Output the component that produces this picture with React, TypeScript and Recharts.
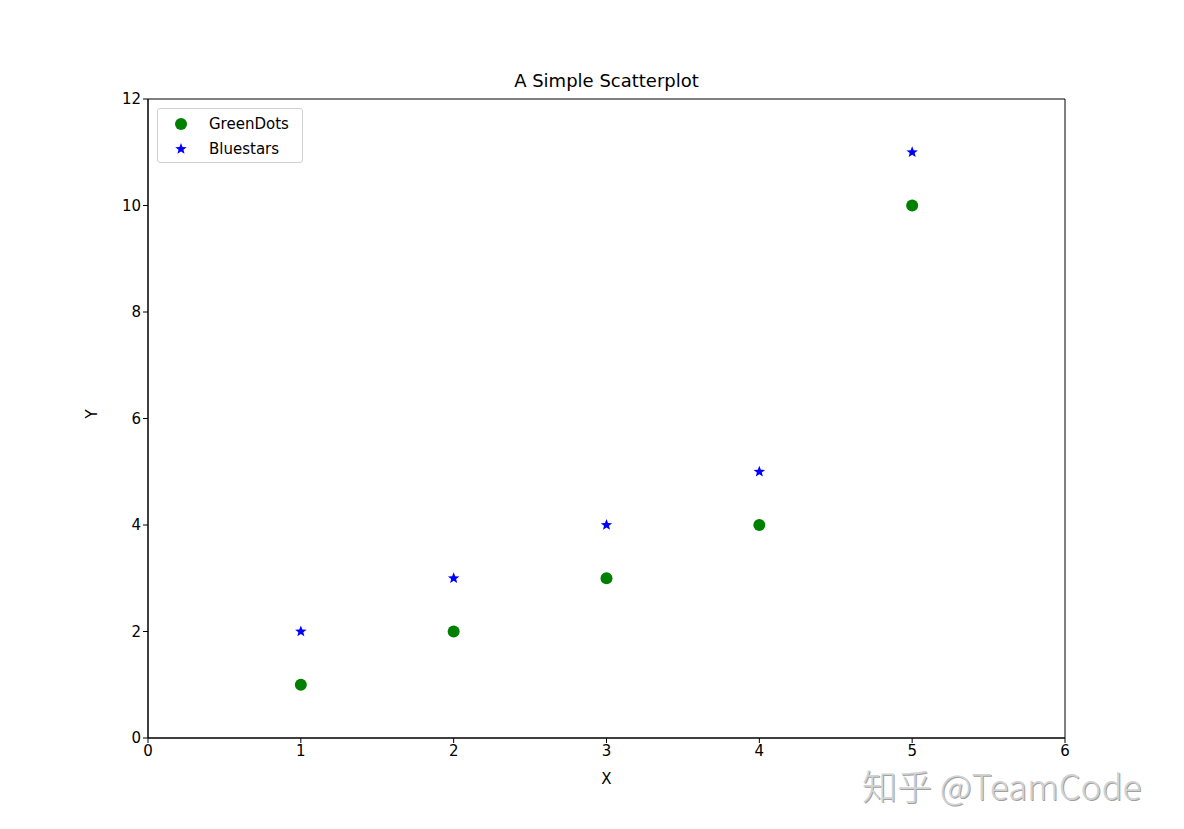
import React from 'react';
import {
  ScatterChart,
  Scatter,
  XAxis,
  YAxis,
  ReferenceArea,
} from 'recharts';

const xValues = [1, 2, 3, 4, 5];
const greenDots = [1, 2, 3, 4, 10];
const blueStars = [2, 3, 4, 5, 11];
const xTicks = [0, 1, 2, 3, 4, 5, 6];
const yTicks = [0, 2, 4, 6, 8, 10, 12];

const greenData = xValues.map((x, i) => ({ x, y: greenDots[i] }));
const blueData = xValues.map((x, i) => ({ x, y: blueStars[i] }));

const FONT = 'DejaVu Sans, sans-serif';

const starPath = (cx: number, cy: number, R: number, r: number) => {
  let d = '';
  for (let i = 0; i < 10; i++) {
    const rad = i % 2 === 0 ? R : r;
    const a = -Math.PI / 2 + (i * Math.PI) / 5;
    d += (i === 0 ? 'M' : 'L') + (cx + rad * Math.cos(a)).toFixed(2) + ',' + (cy + rad * Math.sin(a)).toFixed(2);
  }
  return d + 'Z';
};

const Star = (props: any) => {
  const { cx, cy } = props;
  return <path d={starPath(cx, cy, 6, 2.6)} fill="#0000ff" />;
};

const Dot = (props: any) => {
  const { cx, cy } = props;
  return <circle cx={cx} cy={cy} r={6} fill="#008000" />;
};

const LegendBox = () => (
  <div
    style={{
      position: 'absolute',
      left: 157,
      top: 108,
      width: 146,
      height: 55,
      border: '1px solid #d0d0d0',
      borderRadius: 3,
      background: '#fff',
      fontFamily: FONT,
      fontSize: 15,
      boxSizing: 'border-box',
      padding: '2px 0 0 0',
    }}
  >
    <div style={{ display: 'flex', alignItems: 'center', height: 25 }}>
      <svg width={51} height={20}>
        <circle cx={23} cy={10} r={6} fill="#008000" />
      </svg>
      <span>GreenDots</span>
    </div>
    <div style={{ display: 'flex', alignItems: 'center', height: 25 }}>
      <svg width={51} height={20}>
        <path d={starPath(23, 10, 6, 2.6)} fill="#0000ff" />
      </svg>
      <span>Bluestars</span>
    </div>
  </div>
);

export default function App() {
  return (
    <div style={{ position: 'absolute', left: 0, top: 0, width: 1184, height: 829, background: '#fff' }}>
      <div
        style={{
          position: 'absolute',
          top: 70,
          left: 148,
          width: 917,
          textAlign: 'center',
          fontFamily: FONT,
          fontSize: 18,
        }}
      >
        A Simple Scatterplot
      </div>
      <ScatterChart
        width={1184}
        height={829}
        margin={{ top: 99, right: 119, bottom: 41, left: 88 }}
      >
        <XAxis
          type="number"
          dataKey="x"
          domain={[0, 6]}
          ticks={xTicks}
          height={50}
          stroke="#000"
          tickSize={5}
          tick={{ fill: '#000', fontSize: 15, fontFamily: FONT }}
          label={{ value: 'X', position: 'insideBottom', offset: 4, fill: '#000', fontSize: 15, fontFamily: FONT }}
          allowDataOverflow
        />
        <YAxis
          type="number"
          dataKey="y"
          domain={[0, 12]}
          ticks={yTicks}
          width={60}
          stroke="#000"
          tickSize={5}
          tick={{ fill: '#000', fontSize: 15, fontFamily: FONT }}
          label={{ value: 'Y', angle: -90, position: 'insideLeft', offset: 4, fill: '#000', fontSize: 15, fontFamily: FONT }}
          allowDataOverflow
        />
        <ReferenceArea x1={0} x2={6} y1={0} y2={12} fill="none" stroke="#000" strokeWidth={1} />
        <Scatter name="GreenDots" data={greenData} shape={<Dot />} isAnimationActive={false} />
        <Scatter name="Bluestars" data={blueData} shape={<Star />} isAnimationActive={false} />
      </ScatterChart>
      <LegendBox />
      <div
        style={{
          position: 'absolute',
          left: 862,
          top: 759,
          fontFamily: 'Noto Sans CJK SC, DejaVu Sans, sans-serif',
          fontWeight: 300,
          fontSize: 35,
          color: '#d2d2d2',
          textShadow: '1px 1px 0 #a0a0a0',
          whiteSpace: 'nowrap',
        }}
      >
        知乎 @TeamCode
      </div>
    </div>
  );
}
